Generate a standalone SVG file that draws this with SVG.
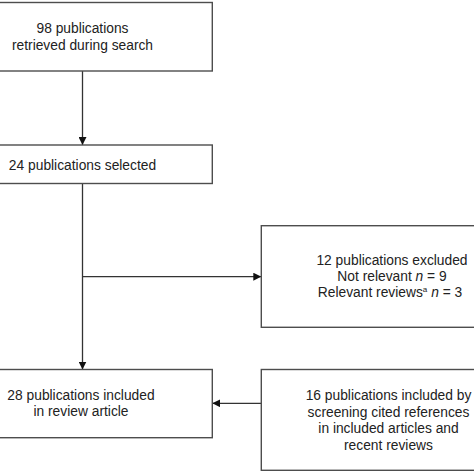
<svg xmlns="http://www.w3.org/2000/svg" width="474" height="474" viewBox="0 0 474 474">
<style>
.box{fill:#fff;stroke:#4d4d4d;stroke-width:1.4}
.ln{fill:none;stroke:#333;stroke-width:1.3}
text{font-family:"Liberation Sans",Arial,sans-serif;font-size:13.8px;fill:#222}
.c{text-anchor:middle}
</style>
<defs>
<marker id="ah" viewBox="0 0 10 10" refX="10" refY="5" markerWidth="8" markerHeight="8" markerUnits="userSpaceOnUse" orient="auto">
<path d="M0,0 L10,5 L0,10 Z" fill="#111"/>
</marker>
</defs>
<rect width="474" height="474" fill="#fff"/>
<g id="connectors">
<line class="ln" x1="82.5" y1="71" x2="82.5" y2="145" marker-end="url(#ah)"/>
<line class="ln" x1="82.5" y1="183.5" x2="82.5" y2="369.5" marker-end="url(#ah)"/>
<line class="ln" x1="82.5" y1="276.7" x2="261.3" y2="276.7" marker-end="url(#ah)"/>
<line class="ln" x1="261.3" y1="403.3" x2="212.3" y2="403.3" marker-end="url(#ah)"/>
</g>
<g id="n1">
<rect class="box" x="-50" y="2.5" width="262.3" height="68.5"/>
<text class="c" x="82.5" y="32.5">98 publications</text>
<text class="c" x="82.5" y="49.5">retrieved during search</text>
</g>
<g id="n2">
<rect class="box" x="-50" y="145" width="262.3" height="38.5"/>
<text class="c" x="82.5" y="169.5">24 publications selected</text>
</g>
<g id="n3">
<rect class="box" x="261.3" y="225.7" width="260" height="101.6"/>
<text class="c" x="392" y="265">12 publications excluded</text>
<text class="c" x="392" y="281.2">Not relevant <tspan font-style="italic">n</tspan> = 9</text>
<text class="c" x="390" y="297.4">Relevant reviews<tspan font-size="8" dy="-5">a</tspan><tspan dy="5"> </tspan><tspan font-style="italic">n</tspan> = 3</text>
</g>
<g id="n4">
<rect class="box" x="-50" y="369.5" width="262.3" height="68.2"/>
<text class="c" x="81" y="399.7">28 publications included</text>
<text class="c" x="81" y="416.4">in review article</text>
</g>
<g id="n5">
<rect class="box" x="261.3" y="369.5" width="260" height="100.8"/>
<text class="c" x="388.5" y="400">16 publications included by</text>
<text class="c" x="388.5" y="416.7">screening cited references</text>
<text class="c" x="388.5" y="433.3">in included articles and</text>
<text class="c" x="388.5" y="450">recent reviews</text>
</g>
</svg>
